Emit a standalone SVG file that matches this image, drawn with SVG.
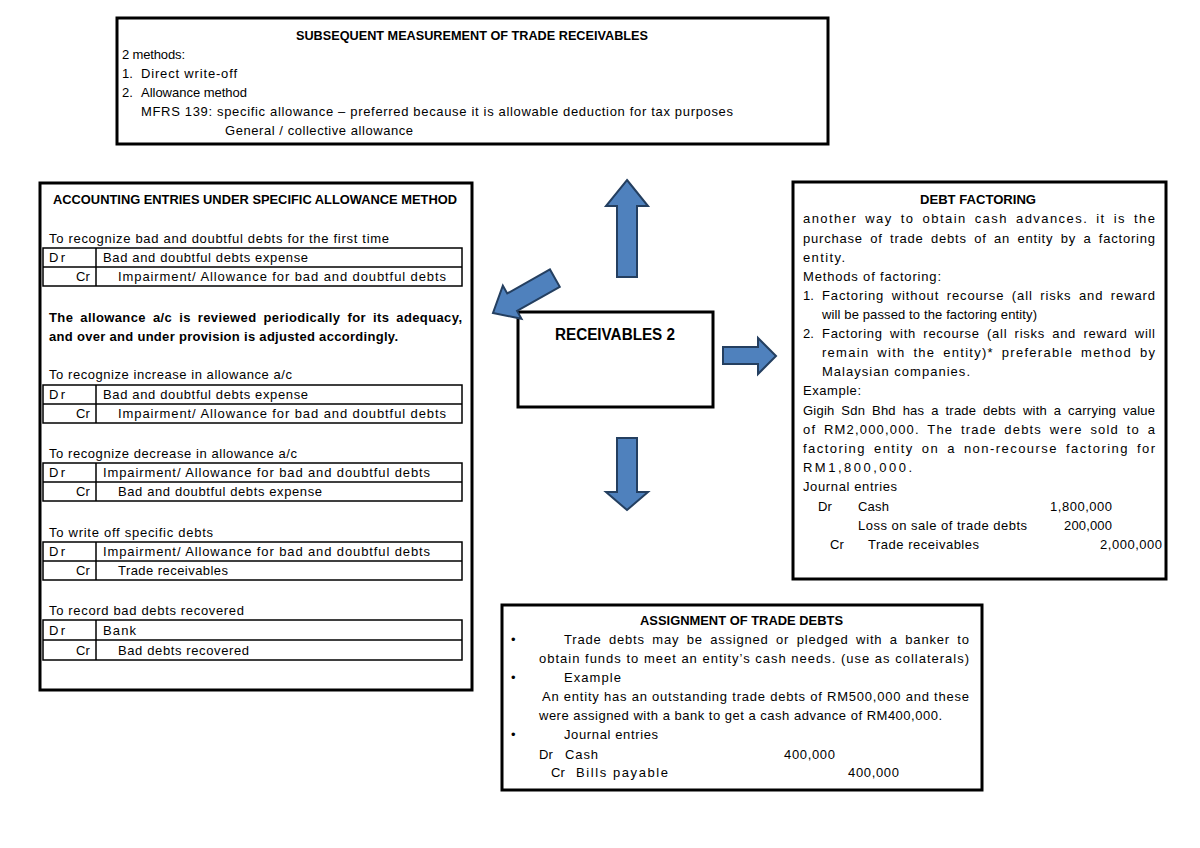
<svg xmlns="http://www.w3.org/2000/svg" width="1200" height="848" viewBox="0 0 1200 848">
<style>
text{font-family:"Liberation Sans",Arial,sans-serif;font-size:13px;fill:#000}
.b{font-weight:bold}
.j{word-spacing:3px}
.box{fill:#fff;stroke:#000;stroke-width:3}
.tb{fill:none;stroke:#000;stroke-width:1.5}
.arr{fill:#4f81bd;stroke:#243f60;stroke-width:2;stroke-linejoin:miter}
</style>
<rect width="1200" height="848" fill="#fff"/>

<g id="subsequent-measurement">
<rect class="box" x="117" y="18" width="711" height="126"/>
<text class="b" x="296" y="40" textLength="352" lengthAdjust="spacingAndGlyphs">SUBSEQUENT MEASUREMENT OF TRADE RECEIVABLES</text>
<text x="122" y="59" textLength="63" lengthAdjust="spacing">2 methods:</text>
<text x="122" y="78">1.</text>
<text x="141" y="78" textLength="96" lengthAdjust="spacing">Direct write-off</text>
<text x="122" y="97">2.</text>
<text x="141" y="97" textLength="106" lengthAdjust="spacing">Allowance method</text>
<text x="141" y="116" textLength="592" lengthAdjust="spacing">MFRS 139: specific allowance – preferred because it is allowable deduction for tax purposes</text>
<text x="225" y="135" textLength="188" lengthAdjust="spacing">General / collective allowance</text>
</g>

<g id="accounting-entries">
<rect class="box" x="40" y="183" width="432" height="507"/>
<text class="b" x="53" y="204" textLength="404" lengthAdjust="spacingAndGlyphs">ACCOUNTING ENTRIES UNDER SPECIFIC ALLOWANCE METHOD</text>

<text x="49" y="243" textLength="340" lengthAdjust="spacing">To recognize bad and doubtful debts for the first time</text>
<rect class="tb" x="43" y="248" width="419" height="38"/>
<line class="tb" x1="43" y1="267" x2="462" y2="267"/>
<line class="tb" x1="96" y1="248" x2="96" y2="286"/>
<text x="49" y="262" textLength="16" lengthAdjust="spacing">Dr</text>
<text x="103" y="262" textLength="205" lengthAdjust="spacing">Bad and doubtful debts expense</text>
<text x="76" y="281">Cr</text>
<text x="118" y="281" textLength="328" lengthAdjust="spacing">Impairment/ Allowance  for bad and doubtful debts</text>

<text class="b j" x="49" y="322" textLength="413" lengthAdjust="spacing">The allowance a/c is reviewed periodically for its adequacy,</text>
<text class="b" x="49" y="341" textLength="349" lengthAdjust="spacing">and over and under provision is adjusted  accordingly.</text>

<text x="49" y="379" textLength="243" lengthAdjust="spacing">To recognize increase in allowance a/c</text>
<rect class="tb" x="43" y="385" width="419" height="38"/>
<line class="tb" x1="43" y1="404" x2="462" y2="404"/>
<line class="tb" x1="96" y1="385" x2="96" y2="423"/>
<text x="49" y="399" textLength="16" lengthAdjust="spacing">Dr</text>
<text x="103" y="399" textLength="205" lengthAdjust="spacing">Bad and doubtful debts expense</text>
<text x="76" y="418">Cr</text>
<text x="118" y="418" textLength="328" lengthAdjust="spacing">Impairment/ Allowance  for bad and doubtful debts</text>

<text x="49" y="458" textLength="248" lengthAdjust="spacing">To recognize decrease in allowance a/c</text>
<rect class="tb" x="43" y="463" width="419" height="38"/>
<line class="tb" x1="43" y1="482" x2="462" y2="482"/>
<line class="tb" x1="96" y1="463" x2="96" y2="501"/>
<text x="49" y="477" textLength="16" lengthAdjust="spacing">Dr</text>
<text x="103" y="477" textLength="327" lengthAdjust="spacing">Impairment/ Allowance  for bad and doubtful debts</text>
<text x="76" y="496">Cr</text>
<text x="118" y="496" textLength="204" lengthAdjust="spacing">Bad and doubtful debts expense</text>

<text x="49" y="537" textLength="164" lengthAdjust="spacing">To write off specific debts</text>
<rect class="tb" x="43" y="542" width="419" height="38"/>
<line class="tb" x1="43" y1="561" x2="462" y2="561"/>
<line class="tb" x1="96" y1="542" x2="96" y2="580"/>
<text x="49" y="556" textLength="16" lengthAdjust="spacing">Dr</text>
<text x="103" y="556" textLength="327" lengthAdjust="spacing">Impairment/ Allowance  for bad and doubtful debts</text>
<text x="76" y="575">Cr</text>
<text x="118" y="575" textLength="110" lengthAdjust="spacing">Trade receivables</text>

<text x="49" y="615" textLength="195" lengthAdjust="spacing">To record bad debts recovered</text>
<rect class="tb" x="43" y="620" width="419" height="40"/>
<line class="tb" x1="43" y1="640" x2="462" y2="640"/>
<line class="tb" x1="96" y1="620" x2="96" y2="660"/>
<text x="49" y="635" textLength="16" lengthAdjust="spacing">Dr</text>
<text x="103" y="635" textLength="33" lengthAdjust="spacing">Bank</text>
<text x="76" y="655">Cr</text>
<text x="118" y="655" textLength="131" lengthAdjust="spacing">Bad debts recovered</text>
</g>

<g id="receivables">
<rect class="box" x="518" y="312" width="195" height="95"/>
<text class="b" x="615" y="340" text-anchor="middle" style="font-size:16px" textLength="120" lengthAdjust="spacingAndGlyphs">RECEIVABLES 2</text>
</g>

<g id="debt-factoring">
<rect class="box" x="793" y="182" width="373" height="397"/>
<text class="b" x="920" y="204" textLength="116" lengthAdjust="spacingAndGlyphs">DEBT FACTORING</text>
<text class="j" x="803" y="223" textLength="352" lengthAdjust="spacing">another way to obtain cash advances. it is the</text>
<text class="j" x="803" y="243" textLength="352" lengthAdjust="spacing">purchase of trade debts of an entity by a factoring</text>
<text x="803" y="262" textLength="42" lengthAdjust="spacing">entity.</text>
<text x="803" y="281" textLength="138" lengthAdjust="spacing">Methods of factoring:</text>
<text x="803" y="300">1.</text>
<text class="j" x="822" y="300" textLength="333" lengthAdjust="spacing">Factoring without recourse (all risks and reward</text>
<text x="822" y="319" textLength="215" lengthAdjust="spacing">will be passed to the factoring entity)</text>
<text x="803" y="338">2.</text>
<text class="j" x="822" y="338" textLength="333" lengthAdjust="spacing">Factoring with recourse (all risks and reward will</text>
<text class="j" x="822" y="357" textLength="333" lengthAdjust="spacing">remain with the entity)* preferable method by</text>
<text x="822" y="376" textLength="148" lengthAdjust="spacing">Malaysian companies.</text>
<text x="803" y="395" textLength="58" lengthAdjust="spacing">Example:</text>
<text class="j" x="803" y="415" textLength="352" lengthAdjust="spacing">Gigih Sdn Bhd has a trade debts with a carrying value</text>
<text class="j" x="803" y="434" textLength="352" lengthAdjust="spacing">of RM2,000,000. The trade debts were sold to a</text>
<text class="j" x="803" y="453" textLength="352" lengthAdjust="spacing">factoring entity on a non-recourse factoring for</text>
<text x="803" y="472" textLength="109" lengthAdjust="spacing">RM1,800,000.</text>
<text x="803" y="491" textLength="94" lengthAdjust="spacing">Journal entries</text>
<text x="818" y="511">Dr</text>
<text x="858" y="511" textLength="31" lengthAdjust="spacing">Cash</text>
<text x="1050" y="511" textLength="62" lengthAdjust="spacing">1,800,000</text>
<text x="858" y="530" textLength="169" lengthAdjust="spacing">Loss on sale of trade debts</text>
<text x="1064" y="530" textLength="48" lengthAdjust="spacing">200,000</text>
<text x="830" y="549">Cr</text>
<text x="868" y="549" textLength="111" lengthAdjust="spacing">Trade receivables</text>
<text x="1100" y="549" textLength="62" lengthAdjust="spacing">2,000,000</text>
</g>

<g id="assignment">
<rect class="box" x="502" y="605" width="480" height="185"/>
<text class="b" x="640" y="625" textLength="203" lengthAdjust="spacingAndGlyphs">ASSIGNMENT OF TRADE DEBTS</text>
<text x="511" y="644">•</text>
<text class="j" x="564" y="644" textLength="405" lengthAdjust="spacing">Trade debts may be assigned or pledged with a banker to</text>
<text x="539" y="663" textLength="430" lengthAdjust="spacing">obtain funds to meet an entity’s cash needs. (use as collaterals)</text>
<text x="511" y="682">•</text>
<text x="564" y="682" textLength="57" lengthAdjust="spacing">Example</text>
<text x="542" y="701" textLength="427" lengthAdjust="spacing">An entity has an outstanding trade debts of RM500,000 and these</text>
<text x="539" y="720" textLength="403" lengthAdjust="spacing">were assigned with a bank to get a cash advance of RM400,000.</text>
<text x="511" y="739">•</text>
<text x="564" y="739" textLength="94" lengthAdjust="spacing">Journal entries</text>
<text x="539" y="759">Dr</text>
<text x="565" y="759" textLength="33" lengthAdjust="spacing">Cash</text>
<text x="784" y="759" textLength="51" lengthAdjust="spacing">400,000</text>
<text x="551" y="777">Cr</text>
<text x="576" y="777" textLength="92" lengthAdjust="spacing">Bills payable</text>
<text x="848" y="777" textLength="51" lengthAdjust="spacing">400,000</text>
</g>

<g id="connectors">
<polygon class="arr" points="627,180 648,206 637,206 637,277 617,277 617,206 606,206"/>
<polygon class="arr" points="627,510 648,492 637,492 637,438 617,438 617,492 606,492"/>
<polygon class="arr" points="776,356 758,338 758,347 723,347 723,364 758,364 758,374"/>
<polygon class="arr" transform="translate(493,313) rotate(150.6)" points="0,0 -22,-19 -22,-10 -71,-10 -71,10 -22,10 -22,19"/>
</g>
</svg>
